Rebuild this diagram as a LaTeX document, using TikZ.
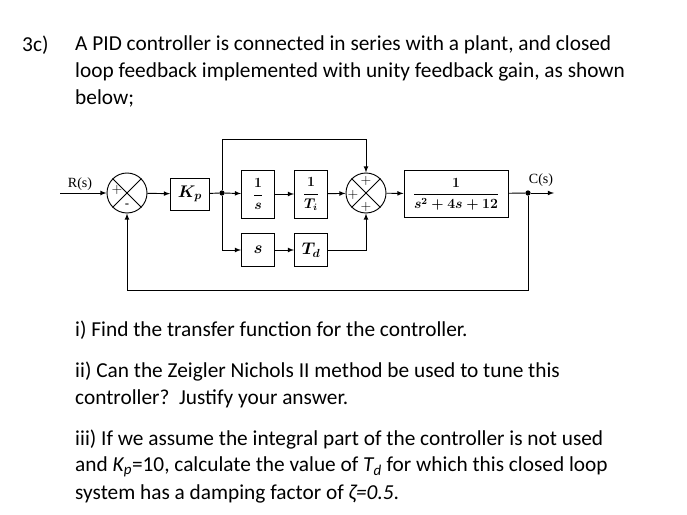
\documentclass[tikz,border=0pt]{standalone}
\usepackage{amsmath}
\usepackage{fontspec}
\setmainfont{Carlito}
\newfontfamily\diagfont{Liberation Serif}
\usetikzlibrary{positioning}
\tikzset{
  blk/.style={draw, thick, minimum width=0.99cm, inner sep=0pt, font=\Large},
  sumj/.style={draw, thick, circle, minimum size=1.2cm, inner sep=0pt},
  sgn/.style={inner sep=0pt, font=\large},
  txt/.style={anchor=west, inner sep=0pt, font=\fontsize{18.2}{22}\selectfont},
  sig/.style={thick, -latex},
  dot/.style={circle, fill, inner sep=1.6pt}
}
\begin{document}
\begin{tikzpicture}[x=0.03cm, y=-0.03cm]
	\useasboundingbox (0,0) rectangle (687,515);
	% question text
	\node [txt] (qn) at (22,45) {3c)};
	\node [txt] (l1) at (75,45) {A PID controller is connected in series with a plant, and closed};
	\node [txt] (l2) at (75,72) {loop feedback implemented with unity feedback gain, as shown};
	\node [txt] (l3) at (75,98) {below;};
	\node [txt] (p1) at (75,330) {i) Find the transfer function for the controller.};
	\node [txt] (p2) at (75,372) {ii) Can the Zeigler Nichols II method be used to tune this};
	\node [txt] (p3) at (75,399) {controller?\ \ Justify your answer.};
	\node [txt] (p4) at (75,440) {iii) If we assume the integral part of the controller is not used};
	\node [txt] (p5) at (75,467) {and \textit{K\textsubscript{p}}=10, calculate the value of \textit{T\textsubscript{d}} for which this closed loop};
	\node [txt] (p6) at (75,494) {system has a damping factor of \textit{ζ=0.5}.};
	% blocks
	\node [sumj] (s1) at (127,193) {};
	\draw [thick] (s1.45) -- (s1.225) (s1.135) -- (s1.315);
	\node [sgn] at (117,190) {$+$};
	\node [sgn] at (127,206) {-};
	\node [blk, minimum width=1.17cm, minimum height=0.96cm] (kp) at (190,194) {$\boldsymbol{K_p}$};
	\node [dot] (br) at (222,193) {};
	\node [blk, minimum height=1.44cm, font=\large] (int) at (258,194) {$\boldsymbol{\dfrac{1}{s}}$};
	\node [blk, minimum height=1.44cm, font=\large] (ti) at (311,194) {$\boldsymbol{\dfrac{1}{T_i}}$};
	\node [blk, minimum height=0.99cm] (der) at (258,250) {$\boldsymbol{s}$};
	\node [blk, minimum height=0.99cm] (td) at (311,250) {$\boldsymbol{T_d}$};
	\node [sumj] (s2) at (366,193) {};
	\draw [thick] (s2.45) -- (s2.225) (s2.135) -- (s2.315);
	\node [sgn] at (366,181) {$+$};
	\node [sgn] at (353,195) {$+$};
	\node [sgn] at (366,207) {$+$};
	\node [blk, minimum width=3.12cm, minimum height=1.41cm, font=\large] (gp) at (456,194) {$\boldsymbol{\dfrac{1}{s^2+4s+12}}$};
	\node [dot] (out) at (528,193) {};
	\coordinate (rin) at (60,193);
	\coordinate (cout) at (554,193);
	\node [font=\diagfont\large] (rlbl) at (80,184) {R(s)};
	\node [font=\diagfont\large] (clbl) at (541,180) {C(s)};
	% connectors
	\draw [sig] (rin) -- (s1);
	\draw [sig] (s1) -- (kp);
	\draw [thick] (kp) -- (br);
	\draw [sig] (br) -- (int);
	\draw [sig] (int) -- (ti);
	\draw [sig] (ti) -- (s2);
	\draw [sig] (br) |- (der);
	\draw [sig] (der) -- (td);
	\draw [sig] (td) -| (s2);
	\draw [sig] (br) |- (366,139) -- (s2);
	\draw [sig] (s2) -- (gp);
	\draw [thick] (gp) -- (out);
	\draw [sig] (out) -- (cout);
	\draw [sig] (out) |- (127,290) -- (s1);
\end{tikzpicture}
\end{document}
